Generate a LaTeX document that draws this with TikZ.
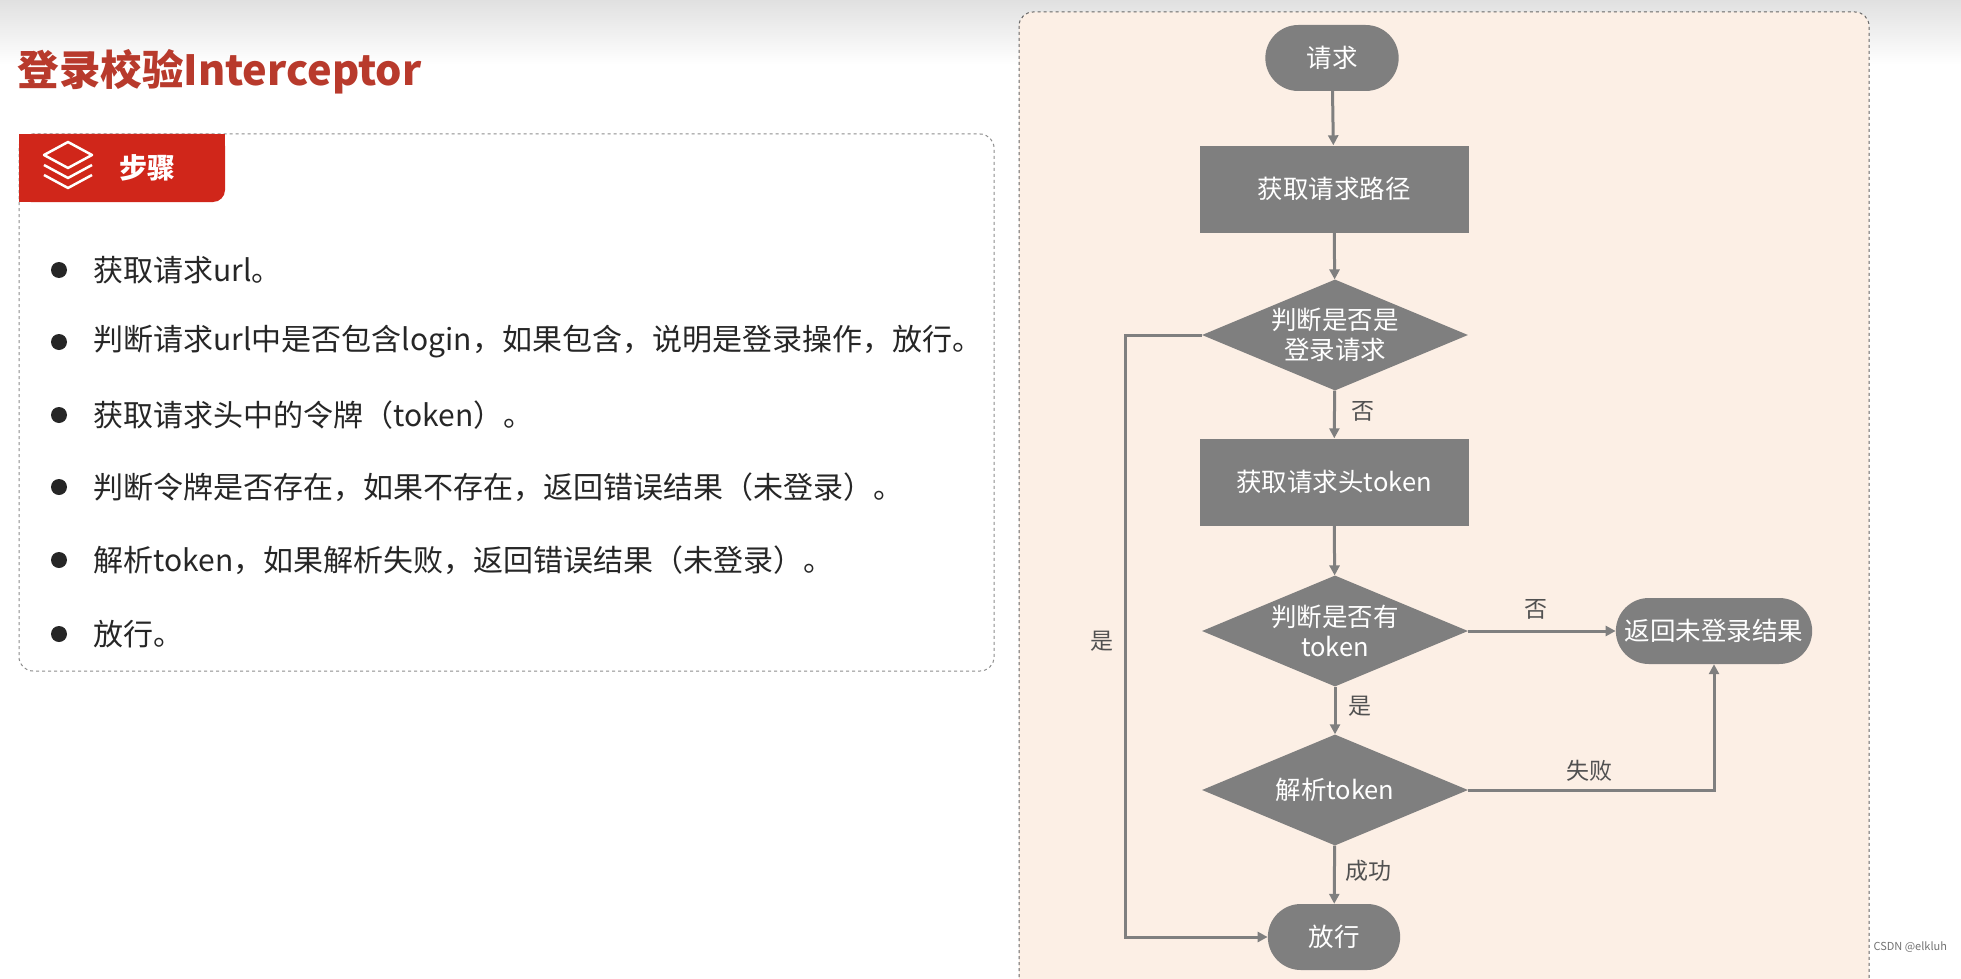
\documentclass[tikz,border=0pt]{standalone}
\usepackage{fontspec}
\setmainfont{Noto Sans CJK SC}
\usetikzlibrary{shapes.geometric,shapes.misc,arrows.meta}
\definecolor{titlered}{HTML}{B83A2C}
\definecolor{tabred}{HTML}{D0261A}
\definecolor{fgray}{HTML}{7F7F7F}
\definecolor{panel}{HTML}{FCEFE5}
\definecolor{txt}{HTML}{262626}
\tikzset{
  x=1pt,y=-1pt,
  term/.style={draw=none,fill=fgray,rounded rectangle,text=white,font=\fontsize{25.5}{29}\selectfont},
  proc/.style={fill=fgray,minimum width=269pt,minimum height=87pt,text=white,font=\fontsize{25.5}{29}\selectfont},
  dec/.style={fill=fgray,diamond,aspect=2.4,minimum width=266pt,minimum height=111pt,inner sep=0pt,text=white,align=center,font=\fontsize{25.5}{30}\selectfont},
  conn/.style={draw=fgray,line width=3pt,-{Triangle[length=10pt,width=10pt]}},
  lbl/.style={text=txt!80,font=\fontsize{23}{26}\selectfont},
  bul/.style={anchor=west,text=txt,font=\fontsize{30}{34}\selectfont},
}
\begin{document}
\begin{tikzpicture}
\useasboundingbox (0,0) rectangle (1961,979);
\fill[white] (0,0) rectangle (1961,979);
\shade[top color=black!12,bottom color=white] (0,0) rectangle (1961,65);
% title
\node[anchor=west,text=titlered,font=\fontsize{41.5}{46}\selectfont\bfseries] (title) at (14,72) {登录校验Interceptor};
% steps box
\draw[black!45,dashed,line width=1pt,rounded corners=14pt] (19,134) rectangle (994,671);
\fill[tabred,rounded corners=12pt] (19,134) -- (225,134) -- (225,202) -- (19,202) -- cycle;
\fill[tabred] (19,134) rectangle (40,202);
\fill[tabred] (19,134) rectangle (225,150);
\begin{scope}[shift={(68,168)},white,line width=2.5pt,line join=round]
\draw (0,-26) -- (24,-13) -- (0,0) -- (-24,-13) -- cycle;
\draw (-24,-3) -- (0,10) -- (24,-3);
\draw (-24,7) -- (0,20) -- (24,7);
\end{scope}
\node[text=white,font=\fontsize{28}{32}\selectfont\bfseries] (steps) at (147,168) {步骤};
\foreach \y/\t [count=\i] in {270/获取请求url。,342/{判断请求url中是否包含login，如果包含，说明是登录操作，放行。},415/获取请求头中的令牌（token）。,487/{判断令牌是否存在，如果不存在，返回错误结果（未登录）。},560/{解析token，如果解析失败，返回错误结果（未登录）。},634/放行。}{
  \fill[txt] (59,\y) circle (8pt);
  \node[bul] (b\i) at (90,\y) {\t};
}
% panel
\draw[black!60,dashed,line width=1pt,fill=panel,rounded corners=14pt] (1019,12) rectangle (1869,995);
\node[term,minimum width=140pt,minimum height=66pt] (req) at (1332,58) {请求};
\node[proc] (path) at (1334,189) {获取请求路径};
\node[dec] (d1) at (1335,335) {判断是否是\\登录请求};
\node[proc] (tok) at (1334,482) {获取请求头token};
\node[dec] (d2) at (1335,631) {判断是否有\\token};
\node[term,minimum width=203pt,minimum height=66pt] (ret) at (1714,631) {返回未登录结果};
\node[dec] (d3) at (1335,790) {解析token};
\node[term,minimum width=139pt,minimum height=66pt] (pass) at (1334,937) {放行};
\draw[conn] (req) -- (path);
\draw[conn] (path) -- (d1);
\draw[conn] (d1) -- (tok);
\draw[conn] (tok) -- (d2);
\draw[conn] (d2) -- (ret);
\draw[conn] (d2) -- (d3);
\draw[conn] (d3) -- (pass);
\draw[conn] (d3.east) -| (ret.south);
\draw[conn] (d1.west) -- (1125,335) |- (pass.west);
\node[lbl] (l1) at (1363,411) {否};
\node[lbl] (l2) at (1102,641) {是};
\node[lbl] (l3) at (1536,609) {否};
\node[lbl] (l4) at (1360,706) {是};
\node[lbl] (l5) at (1589,771) {失败};
\node[lbl] (l6) at (1368,871) {成功};
\node[anchor=west,text=black!55,font=\fontsize{11}{12}\selectfont] (wm) at (1870,947) {CSDN @elkluh};
\end{tikzpicture}
\end{document}
